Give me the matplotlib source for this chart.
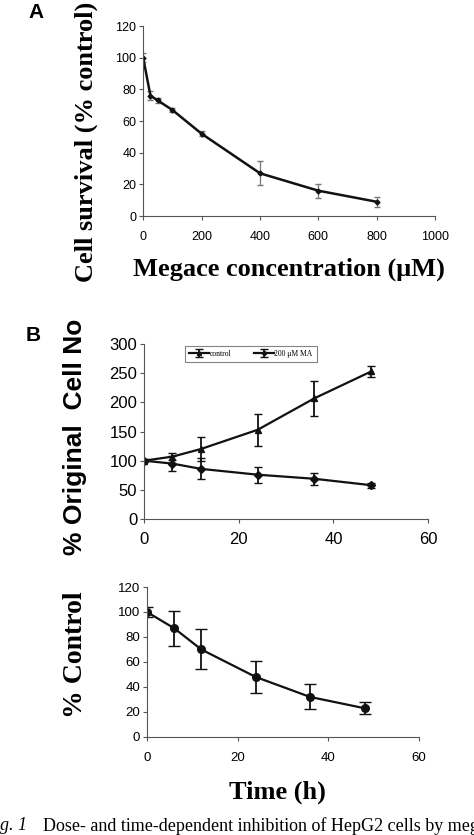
import matplotlib
matplotlib.use('Agg')
import matplotlib.pyplot as plt
import numpy as np

# Panel A: dose response
conc = [0, 25, 50, 100, 200, 400, 600, 800]
survival = [100, 76, 73, 67, 52, 27, 16, 9]
survival_err = [3, 3, 1.5, 1.5, 1.5, 7.5, 4.5, 3]

# Panel B: cell number over time
time_h = [0, 6, 12, 24, 36, 48]
control = [100, 107, 120, 153, 207, 253]
control_err = [3, 6, 20, 27, 30, 10]
ma = [100, 95, 86, 76, 69, 58]
ma_err = [3, 13, 18, 14, 10, 4]

# Panel C: % control over time
pct_control = [100, 87, 70, 48, 32, 23]
pct_control_err = [4, 14, 16, 13, 10, 5]

serif = ['Liberation Serif', 'DejaVu Serif']
sans = ['Liberation Sans', 'DejaVu Sans']

fig = plt.figure(figsize=(4.74, 8.35), dpi=100)


def style(ax):
    for s in ['top', 'right']:
        ax.spines[s].set_visible(False)
    for s in ['left', 'bottom']:
        ax.spines[s].set_color('#555555')
        ax.spines[s].set_linewidth(0.8)
    ax.tick_params(direction='out', length=3, width=0.8, color='#555555', pad=2)


# ---- A ----
axA = fig.add_axes([0.302, 0.7413, 0.616, 0.2275])
axA.errorbar(conc, survival, yerr=survival_err, color='#111111', lw=1.8,
             marker='D', ms=2.5, ecolor='#777777', elinewidth=0.9, capsize=2.5)
axA.set_xlim(0, 1000)
axA.set_ylim(0, 120)
axA.set_xticks(np.arange(0, 1001, 200))
axA.set_yticks(np.arange(0, 121, 20))
style(axA)
for lab in axA.get_xticklabels() + axA.get_yticklabels():
    lab.set_family(sans)
    lab.set_fontsize(9)
axA.tick_params(axis='x', pad=8)
axA.set_ylabel('Cell survival (% control)', family=serif, fontweight='bold',
               fontsize=19)
axA.yaxis.set_label_coords(-0.155, 0.39)
axA.set_xlabel('Megace concentration (\u03bcM)', family=serif, fontweight='bold',
               fontsize=19)
axA.xaxis.set_label_coords(0.5, -0.22)
fig.text(0.075, 0.985, 'A', family=sans, fontweight='bold', fontsize=15,
         va='center', ha='center')

# ---- B ----
axB = fig.add_axes([0.304, 0.3784, 0.599, 0.2096])
axB.errorbar(time_h, control, yerr=control_err, color='#111111', lw=1.6,
             marker='^', ms=5, ecolor='#111111', elinewidth=1.3, capsize=3,
             label='control')
axB.errorbar(time_h, ma, yerr=ma_err, color='#111111', lw=1.6,
             marker='D', ms=4, ecolor='#111111', elinewidth=1.3, capsize=3,
             label='200 \u03bcM MA')
axB.set_xlim(0, 60)
axB.set_ylim(0, 300)
axB.set_xticks(np.arange(0, 61, 20))
axB.set_yticks(np.arange(0, 301, 50))
style(axB)
for lab in axB.get_xticklabels() + axB.get_yticklabels():
    lab.set_family(sans)
    lab.set_fontsize(12)
axB.tick_params(axis='x', pad=6)
leg = axB.legend(loc='upper left', bbox_to_anchor=(0.13, 1.01), ncol=2,
                 frameon=True, fancybox=False, edgecolor='#666666',
                 prop={'family': serif, 'size': 5.5}, handlelength=2.6,
                 handletextpad=0.1, columnspacing=3, borderpad=0.5,
                 markerscale=0.6)
leg.get_frame().set_linewidth(0.8)
axB.set_ylabel('% Original  Cell No', family=sans, fontweight='bold',
               fontsize=19)
axB.yaxis.set_label_coords(-0.2, 0.47)
fig.text(0.07, 0.598, 'B', family=sans, fontweight='bold', fontsize=15,
         va='center', ha='center')

# ---- C ----
axC = fig.add_axes([0.310, 0.1174, 0.574, 0.1796])
axC.errorbar(time_h, pct_control, yerr=pct_control_err, color='#111111',
             lw=1.6, marker='o', ms=5.5, ecolor='#111111', elinewidth=1.3,
             capsize=4)
axC.set_xlim(0, 60)
axC.set_ylim(0, 120)
axC.set_xticks(np.arange(0, 61, 20))
axC.set_yticks(np.arange(0, 121, 20))
style(axC)
for lab in axC.get_xticklabels() + axC.get_yticklabels():
    lab.set_family(sans)
    lab.set_fontsize(9.5)
axC.tick_params(axis='x', pad=8)
axC.set_ylabel('% Control', family=serif, fontweight='bold', fontsize=20)
axC.yaxis.set_label_coords(-0.215, 0.55)
axC.set_xlabel('Time (h)', family=serif, fontweight='bold', fontsize=19)
axC.xaxis.set_label_coords(0.48, -0.29)

# caption, cut at the edges as in the source crop
fig.text(0.057, 0.011, 'Fig. 1', family=serif, style='italic', fontsize=13,
         va='center', ha='right')
fig.text(0.091, 0.011, 'Dose- and time-dependent inhibition of HepG2 cells by megestrol acetate',
         family=serif, fontsize=13, va='center', ha='left')

fig.savefig('out.png', dpi=100)
